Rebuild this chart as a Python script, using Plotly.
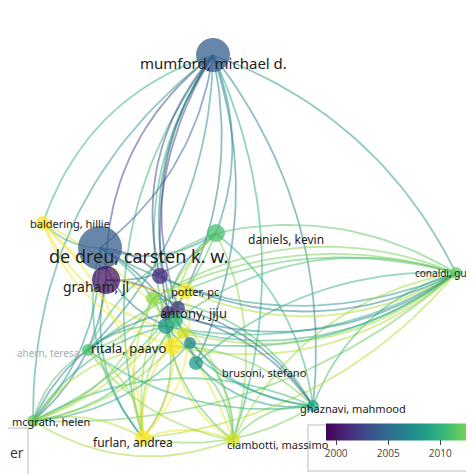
import numpy as np
import plotly.graph_objects as go
from plotly.colors import sample_colorscale

# node data (pixel-like map coords, y downwards)
names = ["mumford, michael d.", "de dreu, carsten k. w.", "graham, jl", "baldering, hillie",
         "daniels, kevin", "potter, pc", "antony, jiju", "ritala, paavo", "ahern, teresa",
         "brusoni, stefano", "conaldi, guido", "ghaznavi, mahmood", "mcgrath, helen",
         "furlan, andrea", "ciambotti, massimo", "n16", "n17", "n18", "n19", "n20", "n21", "n22"]
node_x = [205, 92, 98, 35, 208, 178, 160, 165, 80, 188, 448, 305, 25, 135, 225,
          152, 170, 158, 175, 145, 182, 168]
node_y = [47, 240, 272, 215, 225, 283, 305, 338, 342, 355, 265, 398, 413, 430, 432,
          268, 300, 318, 325, 290, 335, 312]
node_size = [34, 44, 28, 14, 18, 16, 14, 18, 12, 14, 12, 12, 12, 16, 14,
             16, 14, 16, 12, 14, 12, 14]
node_year = [2004, 2004, 2000, 2016, 2011, 2016, 2001, 2016, 2011, 2008, 2012, 2009, 2012, 2016, 2015,
             2001, 2002, 2008, 2015, 2013, 2007, 2010]
label_size = [15, 18, 14, 11, 12, 11, 13, 13, 10, 11, 10, 11, 11, 12, 11,
              0, 0, 0, 0, 0, 0, 0]
label_pos = [(205, 55), (130, 248), (88, 278), (20, 215), (238, 231), (161, 283), (150, 305),
             (120, 340), (40, 345), (212, 364), (440, 265), (345, 400), (2, 413), (125, 434), (270, 436)]

edges = [(0, 1), (0, 2), (0, 4), (0, 7), (0, 9), (0, 13), (0, 14), (0, 16), (0, 17), (0, 15), (0, 11),
         (0, 12), (0, 8), (0, 21), (0, 10), (0, 3),
         (1, 3), (1, 4), (1, 7), (1, 13), (1, 15), (1, 17), (1, 12), (1, 10), (1, 9),
         (2, 4), (2, 16), (2, 13), (2, 12), (3, 7), (3, 13), (3, 5), (3, 14), (3, 18),
         (4, 10), (4, 13), (4, 11), (4, 7), (4, 12), (4, 17), (4, 14),
         (7, 10), (7, 11), (7, 12), (7, 13), (7, 14), (9, 10), (9, 11), (9, 14),
         (10, 11), (10, 13), (10, 14), (10, 17), (10, 19), (10, 20), (10, 21), (10, 12), (10, 8),
         (11, 13), (11, 14), (11, 17), (11, 12), (11, 8), (11, 19),
         (12, 13), (12, 14), (12, 17), (12, 19), (12, 8), (12, 21),
         (13, 14), (13, 17), (13, 19), (13, 8), (13, 21), (13, 5),
         (14, 17), (14, 19), (14, 8), (14, 20), (8, 17), (8, 19), (8, 4), (5, 10), (5, 12),
         (6, 10), (6, 11), (6, 12), (6, 0), (18, 10), (18, 12), (18, 13), (20, 12), (21, 11),
         (19, 10), (17, 10), (16, 11), (15, 10)]

cmin, cmax = 1999, 2016
cscale = "Viridis"

fig = go.Figure()
for i, (a, b) in enumerate(edges):
    x0, y0, x1, y1 = node_x[a], node_y[a], node_x[b], node_y[b]
    mx, my = (x0 + x1) / 2, (y0 + y1) / 2
    dx, dy = x1 - x0, y1 - y0
    bend = 0.25 if i % 2 else -0.2
    cx, cy = mx - dy * bend, my + dx * bend
    t = np.linspace(0, 1, 30)
    bx = (1 - t) ** 2 * x0 + 2 * (1 - t) * t * cx + t ** 2 * x1
    by = (1 - t) ** 2 * y0 + 2 * (1 - t) * t * cy + t ** 2 * y1
    yr = (node_year[a] + node_year[b]) / 2
    col = sample_colorscale(cscale, [(yr - cmin) / (cmax - cmin)])[0]
    fig.add_trace(go.Scatter(x=bx, y=by, mode="lines", line=dict(color=col, width=1.8),
                             opacity=0.5, hoverinfo="skip", showlegend=False))

# colorbar box
fig.add_shape(type="rect", x0=300, x1=480, y0=417, y1=463, line=dict(color="#ddd"), fillcolor="white")

fig.add_trace(go.Scatter(
    x=node_x, y=node_y, mode="markers",
    marker=dict(size=node_size, color=node_year, colorscale=cscale, cmin=cmin, cmax=cmax,
                opacity=0.75, line=dict(width=0),
                colorbar=dict(orientation="h", x=0.857, xanchor="center", y=0.085, yanchor="middle",
                              len=0.416, thickness=17, tickvals=[2000, 2005, 2010],
                              tickfont=dict(size=10, color="#444"), ticks="outside",
                              outlinewidth=0)),
    hovertext=names, showlegend=False))

for i, (lx, ly) in enumerate(label_pos):
    fig.add_annotation(x=lx, y=ly, text=names[i], showarrow=False, xanchor="left" if i in (3, 4, 5, 6, 9, 12) else "center",
                       font=dict(size=label_size[i], color="#aaa" if i == 8 else "#222",
                                 family="Noto Sans"))

# left bottom partial box
fig.add_shape(type="rect", x0=-10, x1=20, y0=420, y1=468, line=dict(color="#ddd"), fillcolor="white")
fig.add_annotation(x=0, y=444, text="er", showarrow=False, xanchor="left", font=dict(size=14, color="#333"))
fig.add_shape(type="rect", x0=0, x1=474, y0=468, y1=474, line=dict(width=0), fillcolor="#ddd")

fig.update_xaxes(range=[0, 474], visible=False)
fig.update_yaxes(range=[474, 0], visible=False)
fig.update_layout(width=474, height=474, margin=dict(l=0, r=0, t=0, b=0),
                  plot_bgcolor="white", paper_bgcolor="white")
fig.write_html("out.html")
